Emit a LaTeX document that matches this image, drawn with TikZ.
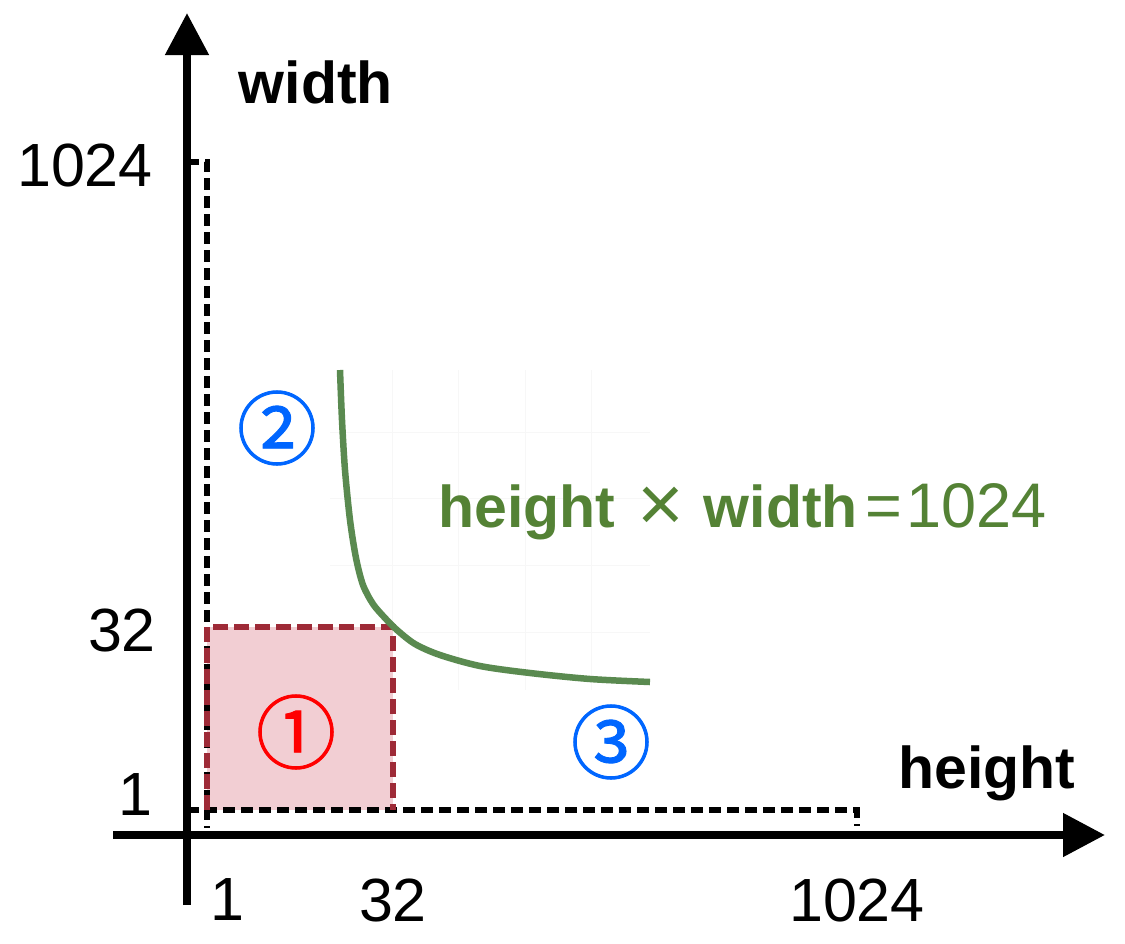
\documentclass[tikz,border=0pt]{standalone}
\usepackage{fontspec}
\setmainfont{Liberation Sans}
\newfontfamily\numfont{Liberation Sans}
\newfontfamily\circfont[FakeBold=1.2]{Noto Sans CJK SC}
\usetikzlibrary{arrows.meta}
\definecolor{cblue}{RGB}{0,102,255}
\definecolor{cred}{RGB}{255,0,0}
\definecolor{cgreen}{RGB}{84,130,53}
\definecolor{curvegreen}{RGB}{90,138,80}
\definecolor{boxfill}{RGB}{242,206,211}
\definecolor{boxline}{RGB}{158,42,55}
\tikzset{
  axis/.style={line width=8pt,-{Triangle[length=42pt,width=42pt]}},
  guide/.style={line width=5.5pt,dash pattern=on 12pt off 6pt},
  num/.style={font=\numfont\fontsize{61}{61}\selectfont,inner sep=0pt},
  lbl/.style={font=\fontsize{59}{59}\selectfont\bfseries,inner sep=0pt,anchor=base},
  circnum/.style={font=\circfont\fontsize{80}{80}\selectfont,inner sep=0pt},
}
\begin{document}
\begin{tikzpicture}[x=1pt,y=-1pt]
\useasboundingbox (0,0) rectangle (1125,943);
% faint grid
\foreach \gx in {392,458,525,591} \draw[black!3,line width=1pt] (\gx,370) -- (\gx,690);
\foreach \gy in {432,498,565,632} \draw[black!3,line width=1pt] (330,\gy) -- (650,\gy);
% region 1
\path[fill=boxfill] (207,627) rectangle (393,810);
% guides
\coordinate (vt) at (187,162);
\coordinate (vtc) at (207,162);
\coordinate (vb) at (207,828);
\coordinate (hl) at (187,810);
\coordinate (hr) at (857,810);
\coordinate (hrt) at (857,826);
\draw[guide] (vt) -- (vtc) -- (vb);
\draw[guide] (hl) -- (hr) -- (hrt);
\draw[line width=5.5pt,boxline,dash pattern=on 15pt off 6pt] (207,810) -- (207,627) -- (393,627) -- (393,810);
% axes
\coordinate (yb) at (187,905);
\coordinate (yt) at (187,13);
\coordinate (xl) at (113,835);
\coordinate (xr) at (1105,835);
\draw[axis] (yb) -- (yt);
\draw[axis] (xl) -- (xr);
% curve
\draw[curvegreen,line width=6.5pt] plot[smooth,tension=0.5] coordinates {(340,370) (342,420) (345,470) (350,520) (356,558) (363,585) (373,604) (385,618) (397,630) (415,644) (440,655) (480,666) (530,673) (590,679) (650,682)};
% labels
\node[lbl] (wlab) at (316,103) {width};
\node[lbl] (hlab) at (987,788) {height};
\node[lbl,text=cgreen,anchor=base west] (eq) at (438,527) {height\hspace{22pt}\raisebox{-4pt}{\mdseries\fontsize{80}{80}\selectfont ×}\hspace{20pt}width\hspace{8pt}{\mdseries\fontsize{63}{63}\selectfont=\hspace{4pt}1024}};
\node[num] (y1024) at (85,165) {1024};
\node[num] (y32) at (122,630) {32};
\node[num] (y1) at (135,795) {1};
\node[num] (x1) at (227,900) {1};
\node[num] (x32) at (393,900) {32};
\node[num] (x1024) at (857,900) {1024};
\node[circnum,text=cred] (c1) at (296,732) {①};
\node[circnum,text=cblue] (c2) at (277,428) {②};
\node[circnum,text=cblue] (c3) at (611,742) {③};
\end{tikzpicture}
\end{document}
